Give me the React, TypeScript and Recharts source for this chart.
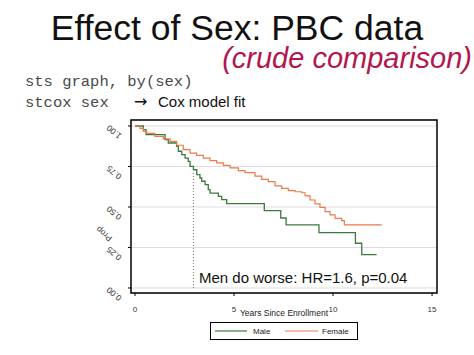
import React from 'react';
import { LineChart, Line, XAxis, YAxis, CartesianGrid, ReferenceLine, ReferenceArea } from 'recharts';

// Kaplan-Meier estimates (years, survival)
const maleTimes = [0, 0.42, 0.56, 1.52, 1.68, 2.1, 2.19, 2.36, 2.53, 2.69, 2.78, 2.95, 3.12, 3.28, 3.37, 3.54, 3.7, 3.79, 4.21, 4.38, 4.63, 6.53, 7.36, 7.63, 9.29, 11.13, 11.45, 12.2];
const maleSurv = [1, 0.977, 0.947, 0.916, 0.895, 0.875, 0.844, 0.823, 0.802, 0.782, 0.751, 0.73, 0.7, 0.679, 0.659, 0.638, 0.607, 0.586, 0.566, 0.545, 0.521, 0.478, 0.432, 0.389, 0.342, 0.276, 0.206, 0.206];

const femaleTimes = [0, 0.25, 0.42, 0.59, 1.01, 1.43, 1.77, 2.1, 2.44, 2.78, 3.11, 3.45, 3.79, 4.12, 4.46, 4.8, 5.22, 5.56, 6.06, 6.4, 6.73, 7.07, 7.41, 7.74, 8.08, 8.42, 8.59, 8.84, 9.09, 9.34, 9.6, 9.85, 10.1, 10.44, 10.57, 12.46];
const femaleSurv = [1, 0.985, 0.967, 0.955, 0.936, 0.92, 0.905, 0.881, 0.854, 0.833, 0.819, 0.802, 0.786, 0.772, 0.757, 0.741, 0.724, 0.712, 0.691, 0.671, 0.656, 0.63, 0.615, 0.601, 0.594, 0.588, 0.568, 0.543, 0.519, 0.498, 0.471, 0.451, 0.43, 0.416, 0.389, 0.389];

const xTicks = [0, 5, 10, 15];
const yTicks = [0, 0.25, 0.5, 0.75, 1];
const yTickLabels = ['0.00', '0.25', '0.50', '0.75', '1.00'];
const markerTime = 2.95;
const markerSurv = 0.71;

const GREEN = '#3d7b3d';
const ORANGE = '#ec7b4c';
const SANS = '"Liberation Sans", Arial, sans-serif';
const MONO = '"Liberation Mono", "DejaVu Sans Mono", monospace';

const maleData = maleTimes.map((t, i) => ({ t, s: maleSurv[i] }));
const femaleData = femaleTimes.map((t, i) => ({ t, s: femaleSurv[i] }));

const XTick = (props: any) => {
  const { x, y, payload } = props;
  return (
    <text x={x} y={y + 14} textAnchor="middle" fontSize={8} fill="#333" fontFamily={SANS}>
      {payload.value}
    </text>
  );
};

const YTick = (props: any) => {
  const { y, payload } = props;
  const idx = yTicks.indexOf(payload.value);
  const cx = 114;
  const cy = y + 6;
  return (
    <text
      x={cx}
      y={cy}
      textAnchor="middle"
      dominantBaseline="central"
      fontSize={8.5}
      fill="#333"
      fontFamily={SANS}
      transform={`rotate(-140, ${cx}, ${cy})`}
    >
      {yTickLabels[idx]}
    </text>
  );
};

export default function App() {
  return (
    <div style={{ position: 'absolute', left: 0, top: 0, width: 474, height: 355, background: '#fff' }}>
      <LineChart width={474} height={355} margin={{ top: 120, right: 37, left: 0, bottom: 0 }}>
        <CartesianGrid vertical={false} stroke="#dedede" strokeWidth={1} />
        <XAxis
          type="number"
          dataKey="t"
          domain={[-0.202, 15.25]}
          ticks={xTicks}
          allowDataOverflow
          axisLine={false}
          tickLine={{ stroke: '#000' }}
          tickSize={3}
          height={62}
          tick={<XTick />}
          label={{ value: 'Years Since Enrollment', position: 'insideTop', offset: 17, fontSize: 8.5, fill: '#222', fontFamily: SANS }}
        />
        <YAxis
          type="number"
          dataKey="s"
          domain={[-0.031, 1.037]}
          ticks={yTicks}
          allowDataOverflow
          axisLine={false}
          tickLine={{ stroke: '#000' }}
          tickSize={3}
          width={131}
          tick={<YTick />}
        />
        <ReferenceArea x1={-0.202} x2={15.25} y1={-0.031} y2={1.037} fill="none" stroke="#000" strokeWidth={1.5} />
        <ReferenceLine
          segment={[{ x: markerTime, y: 0 }, { x: markerTime, y: markerSurv }]}
          stroke="#777"
          strokeDasharray="1 2"
        />
        <Line data={maleData} dataKey="s" type="stepAfter" stroke={GREEN} strokeWidth={1.3} dot={false} isAnimationActive={false} />
        <Line data={femaleData} dataKey="s" type="stepAfter" stroke={ORANGE} strokeWidth={1.2} dot={false} isAnimationActive={false} />
      </LineChart>
      <svg width={474} height={355} style={{ position: 'absolute', left: 0, top: 0, pointerEvents: 'none' }}>
        <text x={237} y={40} textAnchor="middle" fontSize={35.5} fill="#111" fontFamily={SANS}>
          Effect of Sex: PBC data
        </text>
        <text x={472} y={68} textAnchor="end" fontSize={29} fontStyle="italic" fill="#b3164f" fontFamily={SANS}>
          (crude comparison)
        </text>
        <text x={25} y={86} fontSize={15.5} fill="#4a4a4a" fontFamily={MONO}>
          sts graph, by(sex)
        </text>
        <text x={25} y={107} fontSize={15.5} fill="#4a4a4a" fontFamily={MONO}>
          stcox sex
        </text>
        <text x={134} y={107} fontSize={16} fill="#111" fontFamily='"DejaVu Sans", sans-serif'>
          {'\u2192'}
        </text>
        <text x={158} y={107} fontSize={15} fill="#111" fontFamily={SANS}>
          Cox model fit
        </text>
        <text x={199} y={283} fontSize={15} fill="#111" fontFamily={SANS}>
          Men do worse: HR=1.6, p=0.04
        </text>
        <text
          x={104}
          y={234}
          textAnchor="middle"
          dominantBaseline="central"
          fontSize={8.5}
          fill="#333"
          fontFamily={SANS}
          transform="rotate(-140, 104, 234)"
        >
          Prop
        </text>
        <rect x={210.5} y={322.5} width={147} height={17} fill="#fff" stroke="#000" strokeWidth={1} />
        <line x1={215} y1={331} x2={247} y2={331} stroke={GREEN} strokeWidth={1.2} />
        <text x={253} y={334} fontSize={8} fill="#222" fontFamily={SANS}>Male</text>
        <line x1={285} y1={331} x2={318} y2={331} stroke={ORANGE} strokeWidth={1.2} />
        <text x={322} y={334} fontSize={8} fill="#222" fontFamily={SANS}>Female</text>
      </svg>
    </div>
  );
}
